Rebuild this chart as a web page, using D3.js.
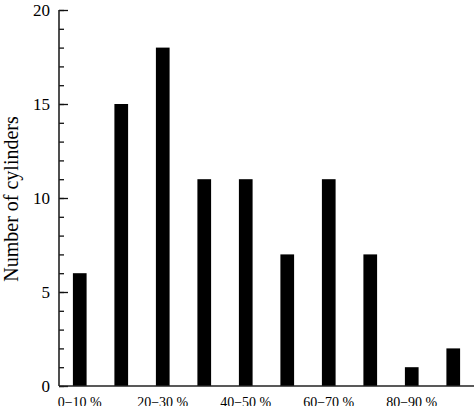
<!DOCTYPE html>
<html><head><meta charset="utf-8">
<script src="https://cdn.jsdelivr.net/npm/d3@7"></script>
<style>body{margin:0;background:#fff}svg{display:block}</style>
</head><body>
<svg id="c" width="474" height="406"></svg>
<script>
const categories = ["0\u221210 %","10\u221220 %","20\u221230 %","30\u221240 %","40\u221250 %","50\u221260 %","60\u221270 %","70\u221280 %","80\u221290 %","90\u2212100 %"];
const counts = [6,15,18,11,11,7,11,7,1,2];
const yMajorTicks = [0,5,10,15,20];
const xLabelCats = ["0\u221210 %","20\u221230 %","40\u221250 %","60\u221270 %","80\u221290 %"];

const svg = d3.select("#c");
const x = d3.scaleBand().domain(categories).range([59,474]).paddingInner(0.67).paddingOuter(0.335);
const y = d3.scaleLinear().domain([0,20]).range([386,10]);
const font = "'Liberation Serif','Times New Roman',serif";

svg.selectAll("rect.bar").data(counts).join("rect")
  .attr("x",(d,i)=>x(categories[i])).attr("width",x.bandwidth())
  .attr("y",d=>y(d)).attr("height",d=>y(0)-y(d)).attr("fill","#000");

// y axis
const gy = svg.append("g").attr("transform","translate(59,0)");
gy.call(d3.axisRight(y).tickValues(d3.range(0,21,1)).tickSize(5).tickFormat(""));
gy.call(g=>g.select(".domain").remove());
gy.append("g").call(d3.axisRight(y).tickValues(yMajorTicks).tickSize(9).tickFormat(""))
  .call(g=>g.select(".domain").remove());
gy.selectAll(".tick line").attr("stroke","#111").attr("stroke-width",1.3);
gy.append("line").attr("x1",0).attr("x2",0).attr("y1",y(20)).attr("y2",y(0)).attr("stroke","#222").attr("stroke-width",1.6);
svg.append("g").selectAll("text").data(yMajorTicks).join("text")
  .attr("x",50).attr("y",d=>y(d)).attr("dy","0.35em").attr("text-anchor","end")
  .attr("font-family",font).attr("font-size",17).text(d=>d);

// x axis
const gx = svg.append("g").attr("transform","translate(0,386)");
gx.call(d3.axisBottom(x).tickValues(xLabelCats).tickSize(0).tickPadding(0));
gx.select(".domain").remove();
gx.selectAll("text").attr("font-family",font).attr("font-size",14).attr("fill","#000")
  .attr("dy",null).attr("y",21);
gx.append("line").attr("x1",59).attr("x2",474).attr("y1",0).attr("y2",0).attr("stroke","#222").attr("stroke-width",1.6);

svg.append("text").attr("transform","translate(17.5,199) rotate(-90)").attr("text-anchor","middle")
  .attr("font-family",font).attr("font-size",20).text("Number of cylinders");
</script>
</body></html>
